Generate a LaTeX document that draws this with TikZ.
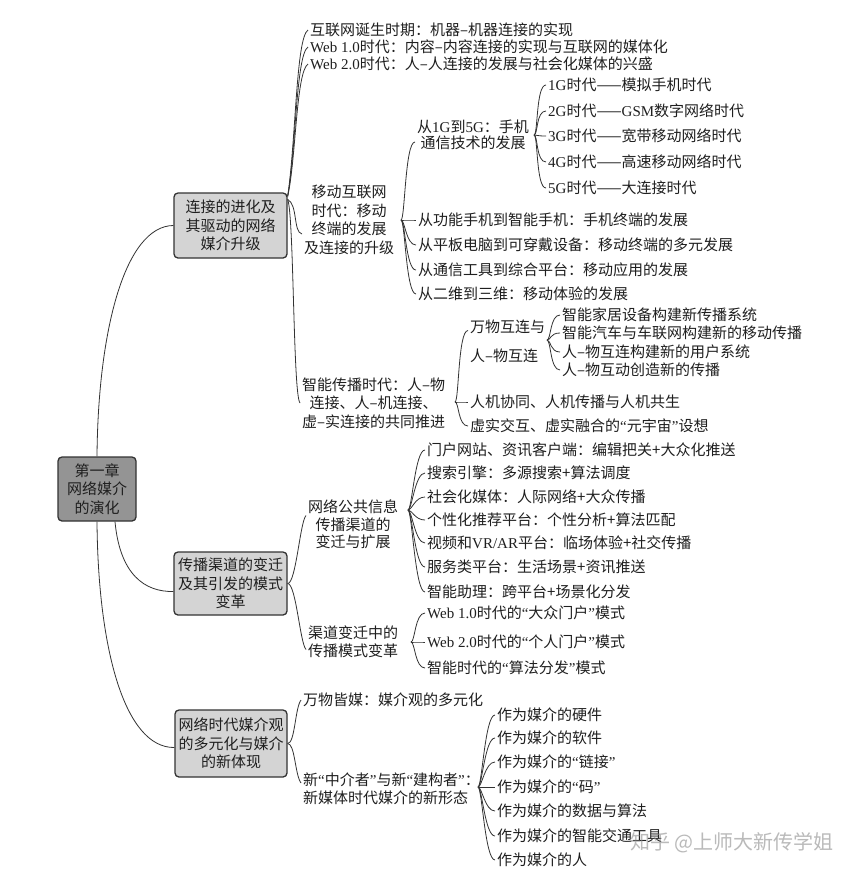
\documentclass[tikz,border=0pt]{standalone}
\usepackage{fontspec}
\setmainfont{Noto Sans CJK SC}
\newfontfamily\latf{Liberation Serif}
\newcommand\Lt[1]{{\latf #1}}
\newcommand\oq{{\latf “}}
\newcommand\cq{{\latf ”}}
\usetikzlibrary{calc}
\newcommand\mybrace[3][0]{\draw[conn] (#2) .. controls ($(#2)+(4,0)$) and ($(#3.west)+(-10,#1)$) .. ($(#3.west)+(0,#1)$);}
\begin{document}
\begin{tikzpicture}[x=1pt,y=-1pt,
  conn/.style={draw=black!80, line width=0.8pt},
  txt/.style={anchor=west, inner xsep=2pt, inner ysep=0pt, text=black!88, font=\fontsize{15}{18.5}\selectfont},
  box/.style={draw=black!80, line width=1.3pt, rounded corners=4pt, fill=black!17, align=center, inner sep=0pt, text=black!88, font=\fontsize{15}{18.5}\selectfont},
]
\fill[white] (0,0) rectangle (852,876);
\useasboundingbox (0,0) rectangle (852,876);

% main boxes
\node[box, fill=black!42, minimum width=78pt, minimum height=64pt] (root) at (97,489) {第一章\\网络媒介\\的演化};
\node[box, minimum width=113pt, minimum height=65pt] (box2) at (230.5,225.5) {连接的进化及\\其驱动的网络\\媒介升级};
\node[box, minimum width=113pt, minimum height=63pt] (box3) at (230.5,583.5) {传播渠道的变迁\\及其引发的模式\\变革};
\node[box, minimum width=112pt, minimum height=67pt] (box4) at (231,743.5) {网络时代媒介观\\的多元化与媒介\\的新体现};

% box2 children
\node[txt] (a1) at (308,30) {互联网诞生时期：机器–机器连接的实现};
\node[txt] (a2) at (308,47) {\Lt{Web 1.0}时代：内容–内容连接的实现与互联网的媒体化};
\node[txt] (a3) at (308,64) {\Lt{Web 2.0}时代：人–人连接的发展与社会化媒体的兴盛};
\node[txt, align=center] (a4) at (302,220) {移动互联网\\时代：移动\\终端的发展\\及连接的升级};
\node[txt, align=center] (a5) at (300,403) {智能传播时代：人–物\\连接、人–机连接、\\虚–实连接的共同推进};

% a4 children
\node[txt, align=center, font=\fontsize{15}{16.5}\selectfont] (b1) at (415,135) {从\Lt{1G}到\Lt{5G}：手机\\通信技术的发展};
\node[txt] (b2) at (416,220) {从功能手机到智能手机：手机终端的发展};
\node[txt] (b3) at (416,245) {从平板电脑到可穿戴设备：移动终端的多元发展};
\node[txt] (b4) at (416,270) {从通信工具到综合平台：移动应用的发展};
\node[txt] (b5) at (416,294) {从二维到三维：移动体验的发展};

% b1 children
\node[txt] (c1) at (546,85) {\Lt{1G}时代——模拟手机时代};
\node[txt] (c2) at (546,111) {\Lt{2G}时代——\Lt{GSM}数字网络时代};
\node[txt] (c3) at (546,136) {\Lt{3G}时代——宽带移动网络时代};
\node[txt] (c4) at (546,162) {\Lt{4G}时代——高速移动网络时代};
\node[txt] (c5) at (546,188) {\Lt{5G}时代——大连接时代};

% a5 children
\node[txt, align=left, font=\fontsize{15}{29}\selectfont] (d1) at (468,341.5) {万物互连与\\人–物互连};
\node[txt] (d2) at (468,402) {人机协同、人机传播与人机共生};
\node[txt] (d3) at (468,426) {虚实交互、虚实融合的\oq 元宇宙\cq 设想};

% d1 children
\node[txt] (e1) at (560,315) {智能家居设备构建新传播系统};
\node[txt] (e2) at (560,333) {智能汽车与车联网构建新的移动传播};
\node[txt] (e3) at (560,352) {人–物互连构建新的用户系统};
\node[txt] (e4) at (560,370) {人–物互动创造新的传播};

% box3 children
\node[txt, align=center, font=\fontsize{15}{17.5}\selectfont] (f1) at (306,524.5) {网络公共信息\\传播渠道的\\变迁与扩展};
\node[txt, align=left, font=\fontsize{15}{17.5}\selectfont] (f2) at (306,641.5) {渠道变迁中的\\传播模式变革};

\node[txt] (g1) at (425,450) {门户网站、资讯客户端：编辑把关+大众化推送};
\node[txt] (g2) at (425,473) {搜索引擎：多源搜索+算法调度};
\node[txt] (g3) at (425,497) {社会化媒体：人际网络+大众传播};
\node[txt] (g4) at (425,520) {个性化推荐平台：个性分析+算法匹配};
\node[txt] (g5) at (425,543) {视频和\Lt{VR/AR}平台：临场体验+社交传播};
\node[txt] (g6) at (425,567) {服务类平台：生活场景+资讯推送};
\node[txt] (g7) at (425,592) {智能助理：跨平台+场景化分发};

\node[txt] (h1) at (425,613) {\Lt{Web 1.0}时代的\oq 大众门户\cq 模式};
\node[txt] (h2) at (425,642) {\Lt{Web 2.0}时代的\oq 个人门户\cq 模式};
\node[txt] (h3) at (425,668) {智能时代的\oq 算法分发\cq 模式};

% box4 children
\node[txt] (i1) at (301,700) {万物皆媒：媒介观的多元化};
\node[txt, align=left, font=\fontsize{15}{18}\selectfont] (i2) at (301,789) {新\oq 中介者\cq 与新\oq 建构者\cq ：\\新媒体时代媒介的新形态};

\node[txt] (j1) at (495,715) {作为媒介的硬件};
\node[txt] (j2) at (495,738) {作为媒介的软件};
\node[txt] (j3) at (495,762) {作为媒介的\oq 链接\cq};
\node[txt] (j4) at (495,787) {作为媒介的\oq 码\cq};
\node[txt] (j5) at (495,811) {作为媒介的数据与算法};
\node[txt] (j6) at (495,836) {作为媒介的智能交通工具};
\node[txt] (j7) at (495,860) {作为媒介的人};

% root connectors
\draw[conn] (root.north) .. controls (98,330) and (125,226) .. (box2.west);
\draw[conn] ($(root.south)+(18,0)$) .. controls (120,575) and (145,592) .. ($(box3.west)+(0,8)$);
\draw[conn] (root.south) .. controls (98,650) and (125,748) .. ($(box4.west)+(0,4)$);

% box2 connectors
\draw[conn] ($(box2.north east)+(0,4)$) .. controls (296,140) and (296,38) .. (a1.west);
\draw[conn] ($(box2.north east)+(0,4)$) .. controls (296,150) and (296,55) .. (a2.west);
\draw[conn] ($(box2.north east)+(0,4)$) .. controls (296,160) and (296,72) .. (a3.west);
\draw[conn] ($(box2.north east)+(0,7)$) .. controls (298,205) and (293,232) .. ($(a4.west)+(0,14)$);
\draw[conn] ($(box2.north east)+(0,7)$) .. controls (294,215) and (293,395) .. (a5.west);

% braces
\coordinate (oA4) at (401,220);
\mybrace[7]{oA4}{b1}
\mybrace{oA4}{b2}
\mybrace{oA4}{b3}
\mybrace{oA4}{b4}
\mybrace{oA4}{b5}

\coordinate (oB1) at (534,135);
\foreach \n in {c1,c2,c3,c4,c5}{\mybrace{oB1}{\n}}

\coordinate (oA5) at (455,402);
\mybrace[-11]{oA5}{d1}
\mybrace{oA5}{d2}
\mybrace{oA5}{d3}

\coordinate (oD1) at (547,340);
\foreach \n in {e1,e2,e3,e4}{\mybrace{oD1}{\n}}

\draw[conn] (box3.east) .. controls (296,583.5) and (300,522) .. ($(f1.west)+(0,-9)$);
\draw[conn] (box3.east) .. controls (296,583.5) and (300,643) .. ($(f2.west)+(0,8)$);

\coordinate (oF1) at (408,510);
\foreach \n in {g1,g2,g3,g4,g5,g6,g7}{\mybrace{oF1}{\n}}
\coordinate (oF2) at (411,642);
\foreach \n in {h1,h2,h3}{\mybrace{oF2}{\n}}

\draw[conn] (box4.east) .. controls (295,743.5) and (295,708) .. (i1.west);
\draw[conn] (box4.east) .. controls (295,743.5) and (295,775) .. ($(i2.west)+(0,-6)$);

\coordinate (oI2) at (478,787);
\foreach \n in {j1,j2,j3,j4,j5,j6,j7}{\mybrace{oI2}{\n}}

% watermark
\node[anchor=west, inner sep=0pt, text=black!45, text opacity=0.6, font=\fontsize{20}{24}\selectfont] (wm) at (630,843) {知乎 @上师大新传学姐};
\end{tikzpicture}
\end{document}
